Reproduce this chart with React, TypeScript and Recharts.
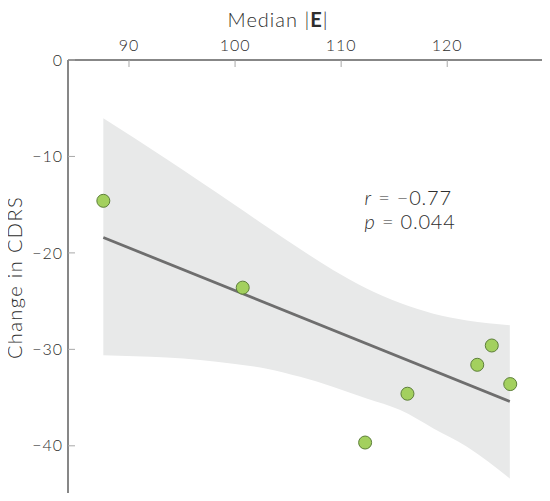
import React from 'react';
import {
  Area,
  ComposedChart,
  Label,
  Line,
  ReferenceDot,
  Scatter,
  XAxis,
  YAxis,
} from 'recharts';

// observed subjects
const medianE = [87.58, 100.72, 112.26, 116.25, 122.83, 124.2, 125.94];
const cdrsChange = [-14.6, -23.6, -39.66, -34.6, -31.6, -29.6, -33.6];

// fitted line
const fitX = [87.58, 125.9];
const fitY = [-18.4, -35.4];

// confidence band
const bandX = [87.58, 93.56, 96.7, 99.81, 102.99, 106.13, 109.27, 112.4, 115.57, 118.7, 121.86, 125.9];
const bandUpper = [-6.05, -10.3, -12.6, -14.9, -17.3, -19.6, -21.8, -23.7, -25.2, -26.3, -27.0, -27.5];
const bandLower = [-30.6, -30.85, -31.1, -31.5, -32.0, -32.85, -33.9, -35.1, -36.3, -38.2, -40.1, -43.4];

const xTicks = [90, 100, 110, 120];
const yTicks = [0, -10, -20, -30, -40];

const FONT = 'Lato, "Open Sans", sans-serif';

const points = medianE.map((x, i) => ({ x, y: cdrsChange[i] }));
const fit = fitX.map((x, i) => ({ x, fit: fitY[i] }));
const band = bandX.map((x, i) => ({ x, range: [bandLower[i], bandUpper[i]] }));

const fmtY = (v: number) => (v < 0 ? `\u2212${Math.abs(v)}` : `${v}`);

const Dot = (props: any) => (
  <circle
    cx={props.cx}
    cy={props.cy}
    r={6.5}
    fill='#a3d05e'
    stroke='#5d7f3a'
    strokeWidth={1}
  />
);

const XTitle = () => (
  <text
    x={278}
    y={27}
    textAnchor='middle'
    fontFamily={FONT}
    fontWeight={300}
    fontSize={20}
    letterSpacing={1}
    fill='#2e2e2e'
  >
    Median |<tspan fontWeight={700}>E</tspan>|
  </text>
);

const YTitle = (props: any) => {
  const vb = props.viewBox;
  const cy = vb.y + vb.height / 2;
  return (
    <text
      x={15}
      y={cy}
      transform={`rotate(-90, 15, ${cy})`}
      textAnchor='middle'
      dy='0.35em'
      fontFamily={FONT}
      fontWeight={300}
      fontSize={20}
      letterSpacing={1.4}
      fill='#2e2e2e'
    >
      Change in CDRS
    </text>
  );
};

const Stats = (props: any) => {
  const vb = props.viewBox;
  return (
    <text fontFamily={FONT} fontWeight={300} fontSize={20} letterSpacing={0.8} fill='#2e2e2e'>
      <tspan x={vb.x} y={vb.y}>
        <tspan fontStyle='italic'>r</tspan> = {'\u2212'}0.77
      </tspan>
      <tspan x={vb.x} y={vb.y + 24}>
        <tspan fontStyle='italic'>p</tspan> = 0.044
      </tspan>
    </text>
  );
};

const tickStyle = {
  fontFamily: FONT,
  fontWeight: 300,
  fontSize: 16,
  letterSpacing: 1,
  fill: '#2e2e2e',
};

const App = (): JSX.Element => {
  return (
    // cancel the body margin so the chart fills the whole window
    <div style={{ margin: -8, width: 550, height: 501 }}>
      <ComposedChart
        width={550}
        height={501}
        margin={{ top: 30, right: 2, left: 16, bottom: 6 }}
      >
        <XAxis
          type='number'
          dataKey='x'
          orientation='top'
          domain={[84.25, 129.5]}
          ticks={xTicks}
          height={30}
          tickSize={-7}
          tickMargin={16}
          tick={tickStyle}
          axisLine={{ stroke: '#5f5f5f', strokeWidth: 1.5 }}
          tickLine={{ stroke: '#a8a8a8' }}
          allowDataOverflow
        >
          <Label content={<XTitle />} />
        </XAxis>
        <YAxis
          type='number'
          domain={[-45.1, 0]}
          ticks={yTicks}
          width={52}
          tickSize={-7}
          tickMargin={12}
          tick={tickStyle}
          tickFormatter={fmtY}
          axisLine={{ stroke: '#5f5f5f', strokeWidth: 1.5 }}
          tickLine={{ stroke: '#a8a8a8' }}
          allowDataOverflow
        >
          <Label content={<YTitle />} />
        </YAxis>
        <Area
          data={band}
          dataKey='range'
          type='monotone'
          fill='#e8e9e9'
          fillOpacity={1}
          stroke='none'
          isAnimationActive={false}
        />
        <Line
          data={fit}
          dataKey='fit'
          type='linear'
          stroke='#6e6e6e'
          strokeWidth={2.8}
          dot={false}
          activeDot={false}
          isAnimationActive={false}
        />
        <Scatter
          data={points}
          dataKey='y'
          shape={<Dot />}
          isAnimationActive={false}
        />
        <ReferenceDot
          x={112.3}
          y={-15.1}
          r={1}
          fill='none'
          stroke='none'
          ifOverflow='visible'
          label={<Stats />}
        />
      </ComposedChart>
    </div>
  );
};

export default App;
